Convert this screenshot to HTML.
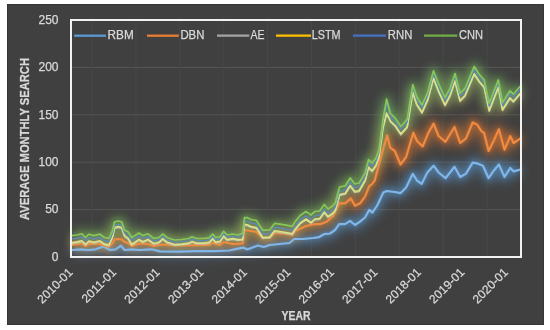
<!DOCTYPE html>
<html><head><meta charset="utf-8"><title>Average monthly search</title>
<style>
html,body{margin:0;padding:0;background:#ffffff;}
body{width:550px;height:330px;overflow:hidden;position:relative;}
svg{position:absolute;left:0;top:0;display:block;}
text{font-family:'Liberation Sans', Arial, sans-serif;stroke:#D9D9D9;stroke-width:0.25px;}
</style></head><body>
<svg width="550" height="330" viewBox="0 0 550 330">
<defs>
<filter id="glow" x="-10%" y="-40%" width="120%" height="180%">
<feGaussianBlur stdDeviation="5.5"/>
</filter>
<filter id="glow2" x="-10%" y="-30%" width="120%" height="160%">
<feGaussianBlur stdDeviation="2"/>
</filter>
<filter id="soft" x="-5%" y="-10%" width="110%" height="120%">
<feGaussianBlur stdDeviation="0.5"/>
</filter>
</defs>
<rect x="7" y="4" width="537" height="321" fill="#404040"/>
<rect x="7.5" y="4.5" width="536" height="320" fill="none" stroke="#363636" stroke-width="1"/>

<line x1="72" x2="520" y1="209.6" y2="209.6" stroke="#555555" stroke-width="1"/>
<line x1="72" x2="520" y1="162.2" y2="162.2" stroke="#555555" stroke-width="1"/>
<line x1="72" x2="520" y1="114.8" y2="114.8" stroke="#555555" stroke-width="1"/>
<line x1="72" x2="520" y1="67.4" y2="67.4" stroke="#555555" stroke-width="1"/>
<line x1="92.0" x2="92.0" y1="21" y2="256" stroke="#474747" stroke-width="1"/>
<line x1="135.9" x2="135.9" y1="21" y2="256" stroke="#474747" stroke-width="1"/>
<line x1="179.8" x2="179.8" y1="21" y2="256" stroke="#474747" stroke-width="1"/>
<line x1="223.7" x2="223.7" y1="21" y2="256" stroke="#474747" stroke-width="1"/>
<line x1="267.6" x2="267.6" y1="21" y2="256" stroke="#474747" stroke-width="1"/>
<line x1="311.5" x2="311.5" y1="21" y2="256" stroke="#474747" stroke-width="1"/>
<line x1="355.4" x2="355.4" y1="21" y2="256" stroke="#474747" stroke-width="1"/>
<line x1="399.3" x2="399.3" y1="21" y2="256" stroke="#474747" stroke-width="1"/>
<line x1="443.2" x2="443.2" y1="21" y2="256" stroke="#474747" stroke-width="1"/>
<line x1="487.1" x2="487.1" y1="21" y2="256" stroke="#474747" stroke-width="1"/>
<polyline points="72.0,250.0 81.0,249.3 88.0,250.0 95.5,249.3 103.6,246.5 110.0,250.0 115.5,249.3 121.0,245.6 124.5,250.0 131.8,249.3 139.0,250.0 151.8,249.3 160.0,251.4 178.0,251.6 196.4,251.2 214.5,251.2 229.0,250.5 238.0,248.6 243.6,247.7 247.3,249.5 254.5,246.8 258.0,245.5 263.8,247.0 269.7,245.0 279.5,244.0 289.4,243.0 294.3,239.0 303.0,239.0 313.0,238.0 318.9,237.2 323.8,234.2 330.0,233.5 335.0,230.0 339.2,224.2 345.0,224.2 350.0,220.8 355.0,225.0 360.0,221.7 365.0,217.5 369.2,210.0 372.5,212.5 377.5,205.0 383.3,192.5 386.8,191.0 394.8,192.0 400.5,193.2 406.1,187.5 412.8,173.8 417.0,180.5 421.6,183.9 427.3,172.5 433.6,165.7 438.6,172.5 445.5,178.2 454.5,166.8 460.2,177.0 466.0,173.6 472.7,162.7 477.3,163.4 483.0,165.7 488.6,178.2 493.2,171.4 498.9,164.5 504.5,177.0 510.2,168.0 513.6,171.4 520.5,169.5" fill="none" stroke="#5B9BD5" stroke-width="10" stroke-linejoin="round" filter="url(#glow)" opacity="0.55"/>
<polyline points="72.0,250.0 81.0,249.3 88.0,250.0 95.5,249.3 103.6,246.5 110.0,250.0 115.5,249.3 121.0,245.6 124.5,250.0 131.8,249.3 139.0,250.0 151.8,249.3 160.0,251.4 178.0,251.6 196.4,251.2 214.5,251.2 229.0,250.5 238.0,248.6 243.6,247.7 247.3,249.5 254.5,246.8 258.0,245.5 263.8,247.0 269.7,245.0 279.5,244.0 289.4,243.0 294.3,239.0 303.0,239.0 313.0,238.0 318.9,237.2 323.8,234.2 330.0,233.5 335.0,230.0 339.2,224.2 345.0,224.2 350.0,220.8 355.0,225.0 360.0,221.7 365.0,217.5 369.2,210.0 372.5,212.5 377.5,205.0 383.3,192.5 386.8,191.0 394.8,192.0 400.5,193.2 406.1,187.5 412.8,173.8 417.0,180.5 421.6,183.9 427.3,172.5 433.6,165.7 438.6,172.5 445.5,178.2 454.5,166.8 460.2,177.0 466.0,173.6 472.7,162.7 477.3,163.4 483.0,165.7 488.6,178.2 493.2,171.4 498.9,164.5 504.5,177.0 510.2,168.0 513.6,171.4 520.5,169.5" fill="none" stroke="#5B9BD5" stroke-width="5" stroke-linejoin="round" filter="url(#glow2)" opacity="0.3"/>
<polyline points="72.0,245.0 81.8,243.5 85.5,246.0 89.0,244.0 100.0,244.0 104.5,246.0 109.0,246.5 112.7,243.0 114.5,239.5 118.2,239.0 121.8,239.5 124.5,242.0 128.2,243.0 131.8,246.0 139.0,243.5 148.0,244.0 153.6,246.0 162.7,244.5 174.5,245.5 196.4,245.2 209.0,245.0 212.7,243.0 220.0,245.0 223.6,242.0 232.7,244.0 242.7,243.5 244.5,230.0 251.0,231.0 256.4,232.0 262.8,238.0 269.7,238.0 274.6,233.0 287.4,234.0 292.3,235.0 295.3,231.0 306.0,226.0 314.8,224.0 320.0,224.2 326.7,221.7 333.3,215.8 339.2,203.3 345.0,203.3 350.8,198.3 355.0,205.8 360.0,203.3 365.0,196.7 369.2,186.2 371.5,184.6 374.7,180.5 378.0,168.0 382.2,152.5 387.2,135.4 390.2,147.7 394.8,151.0 400.5,164.5 406.1,157.0 413.3,132.7 417.0,141.0 422.7,146.4 428.4,132.7 433.6,123.6 438.6,136.0 445.5,141.8 454.5,127.0 460.2,143.0 466.0,138.4 472.7,122.5 477.3,124.8 481.8,131.6 484.0,132.7 488.6,151.0 494.3,139.5 498.9,129.3 504.5,149.8 510.2,136.1 513.6,143.0 520.5,138.4" fill="none" stroke="#ED7D31" stroke-width="10" stroke-linejoin="round" filter="url(#glow)" opacity="0.5"/>
<polyline points="72.0,245.0 81.8,243.5 85.5,246.0 89.0,244.0 100.0,244.0 104.5,246.0 109.0,246.5 112.7,243.0 114.5,239.5 118.2,239.0 121.8,239.5 124.5,242.0 128.2,243.0 131.8,246.0 139.0,243.5 148.0,244.0 153.6,246.0 162.7,244.5 174.5,245.5 196.4,245.2 209.0,245.0 212.7,243.0 220.0,245.0 223.6,242.0 232.7,244.0 242.7,243.5 244.5,230.0 251.0,231.0 256.4,232.0 262.8,238.0 269.7,238.0 274.6,233.0 287.4,234.0 292.3,235.0 295.3,231.0 306.0,226.0 314.8,224.0 320.0,224.2 326.7,221.7 333.3,215.8 339.2,203.3 345.0,203.3 350.8,198.3 355.0,205.8 360.0,203.3 365.0,196.7 369.2,186.2 371.5,184.6 374.7,180.5 378.0,168.0 382.2,152.5 387.2,135.4 390.2,147.7 394.8,151.0 400.5,164.5 406.1,157.0 413.3,132.7 417.0,141.0 422.7,146.4 428.4,132.7 433.6,123.6 438.6,136.0 445.5,141.8 454.5,127.0 460.2,143.0 466.0,138.4 472.7,122.5 477.3,124.8 481.8,131.6 484.0,132.7 488.6,151.0 494.3,139.5 498.9,129.3 504.5,149.8 510.2,136.1 513.6,143.0 520.5,138.4" fill="none" stroke="#ED7D31" stroke-width="5" stroke-linejoin="round" filter="url(#glow2)" opacity="0.3"/>
<polyline points="72.0,243.6 77.0,242.9 81.8,241.7 85.5,245.3 89.0,242.0 93.6,243.3 100.0,241.8 104.5,245.1 109.0,245.9 112.7,237.2 114.5,228.5 118.2,227.5 121.8,228.5 124.5,236.6 128.2,239.3 131.8,245.5 139.0,240.4 142.7,242.7 148.0,240.4 153.6,244.5 159.0,243.2 162.7,239.6 167.3,243.3 174.5,245.6 181.8,245.1 189.0,244.1 192.0,242.4 196.4,244.1 203.6,244.1 209.0,243.4 212.7,239.6 215.5,243.0 220.0,242.4 223.6,237.0 227.3,240.6 232.7,239.6 238.0,240.6 242.7,240.2 244.5,225.2 247.3,225.7 251.0,227.5 256.4,228.6 258.9,232.5 262.8,238.5 269.7,238.1 274.6,231.7 281.5,232.7 287.4,233.8 292.3,234.7 295.3,229.9 300.2,224.0 306.0,220.0 311.0,223.5 314.8,220.0 319.7,219.5 324.3,213.0 328.0,217.5 332.5,214.5 335.2,211.5 337.5,203.0 339.6,195.5 345.3,194.3 350.2,186.5 354.8,192.5 359.2,191.5 365.3,181.0 368.5,168.0 372.0,171.7 375.9,166.5 379.0,158.0 383.0,128.5 386.6,114.0 390.5,122.0 395.4,126.8 400.8,134.9 407.2,127.8 412.8,93.1 416.8,105.4 422.0,113.3 427.9,100.1 433.5,79.1 438.7,92.3 445.0,105.8 450.0,96.5 455.0,81.7 460.0,101.5 465.0,96.5 474.2,74.7 479.2,82.3 484.2,88.1 489.2,111.4 498.3,88.1 502.5,110.6 510.0,98.8 513.3,102.2 520.5,94.0" fill="none" stroke="#A5A5A5" stroke-width="10" stroke-linejoin="round" filter="url(#glow)" opacity="0.12"/>
<polyline points="72.0,243.6 77.0,242.9 81.8,241.7 85.5,245.3 89.0,242.0 93.6,243.3 100.0,241.8 104.5,245.1 109.0,245.9 112.7,237.2 114.5,228.5 118.2,227.5 121.8,228.5 124.5,236.6 128.2,239.3 131.8,245.5 139.0,240.4 142.7,242.7 148.0,240.4 153.6,244.5 159.0,243.2 162.7,239.6 167.3,243.3 174.5,245.6 181.8,245.1 189.0,244.1 192.0,242.4 196.4,244.1 203.6,244.1 209.0,243.4 212.7,239.6 215.5,243.0 220.0,242.4 223.6,237.0 227.3,240.6 232.7,239.6 238.0,240.6 242.7,240.2 244.5,225.2 247.3,225.7 251.0,227.5 256.4,228.6 258.9,232.5 262.8,238.5 269.7,238.1 274.6,231.7 281.5,232.7 287.4,233.8 292.3,234.7 295.3,229.9 300.2,224.0 306.0,220.0 311.0,223.5 314.8,220.0 319.7,219.5 324.3,213.0 328.0,217.5 332.5,214.5 335.2,211.5 337.5,203.0 339.6,195.5 345.3,194.3 350.2,186.5 354.8,192.5 359.2,191.5 365.3,181.0 368.5,168.0 372.0,171.7 375.9,166.5 379.0,158.0 383.0,128.5 386.6,114.0 390.5,122.0 395.4,126.8 400.8,134.9 407.2,127.8 412.8,93.1 416.8,105.4 422.0,113.3 427.9,100.1 433.5,79.1 438.7,92.3 445.0,105.8 450.0,96.5 455.0,81.7 460.0,101.5 465.0,96.5 474.2,74.7 479.2,82.3 484.2,88.1 489.2,111.4 498.3,88.1 502.5,110.6 510.0,98.8 513.3,102.2 520.5,94.0" fill="none" stroke="#A5A5A5" stroke-width="5" stroke-linejoin="round" filter="url(#glow2)" opacity="0.15"/>
<polyline points="72.0,242.6 77.0,241.9 81.8,240.7 85.5,244.3 89.0,241.0 93.6,242.3 100.0,240.8 104.5,244.1 109.0,244.9 112.7,236.2 114.5,227.5 118.2,226.5 121.8,227.5 124.5,235.6 128.2,238.3 131.8,244.5 139.0,239.4 142.7,241.7 148.0,239.4 153.6,243.5 159.0,242.2 162.7,238.6 167.3,242.3 174.5,244.6 181.8,244.1 189.0,243.1 192.0,241.4 196.4,243.1 203.6,243.1 209.0,242.4 212.7,238.6 215.5,242.0 220.0,241.4 223.6,236.0 227.3,239.6 232.7,238.6 238.0,239.6 242.7,239.2 244.5,224.2 247.3,224.7 251.0,226.5 256.4,227.6 258.9,231.5 262.8,237.5 269.7,237.1 274.6,230.7 281.5,231.7 287.4,232.8 292.3,233.7 295.3,228.9 300.2,223.0 306.0,219.0 311.0,222.5 314.8,219.0 319.7,218.5 324.3,212.0 328.0,216.5 332.5,213.5 335.2,210.5 337.5,202.0 339.6,194.5 345.3,193.3 350.2,185.5 354.8,191.5 359.2,190.5 365.3,180.0 368.5,167.0 372.0,170.7 375.9,165.5 379.0,157.0 383.0,127.5 386.6,113.0 390.5,121.0 395.4,125.8 400.8,133.9 407.2,126.8 412.8,92.1 416.8,104.4 422.0,112.3 427.9,99.1 433.5,78.1 438.7,91.3 445.0,104.8 450.0,95.5 455.0,80.7 460.0,100.5 465.0,95.5 474.2,73.7 479.2,81.3 484.2,87.1 489.2,110.4 498.3,87.1 502.5,109.6 510.0,97.8 513.3,101.2 520.5,93.0" fill="none" stroke="#FFC000" stroke-width="10" stroke-linejoin="round" filter="url(#glow)" opacity="0.2"/>
<polyline points="72.0,242.6 77.0,241.9 81.8,240.7 85.5,244.3 89.0,241.0 93.6,242.3 100.0,240.8 104.5,244.1 109.0,244.9 112.7,236.2 114.5,227.5 118.2,226.5 121.8,227.5 124.5,235.6 128.2,238.3 131.8,244.5 139.0,239.4 142.7,241.7 148.0,239.4 153.6,243.5 159.0,242.2 162.7,238.6 167.3,242.3 174.5,244.6 181.8,244.1 189.0,243.1 192.0,241.4 196.4,243.1 203.6,243.1 209.0,242.4 212.7,238.6 215.5,242.0 220.0,241.4 223.6,236.0 227.3,239.6 232.7,238.6 238.0,239.6 242.7,239.2 244.5,224.2 247.3,224.7 251.0,226.5 256.4,227.6 258.9,231.5 262.8,237.5 269.7,237.1 274.6,230.7 281.5,231.7 287.4,232.8 292.3,233.7 295.3,228.9 300.2,223.0 306.0,219.0 311.0,222.5 314.8,219.0 319.7,218.5 324.3,212.0 328.0,216.5 332.5,213.5 335.2,210.5 337.5,202.0 339.6,194.5 345.3,193.3 350.2,185.5 354.8,191.5 359.2,190.5 365.3,180.0 368.5,167.0 372.0,170.7 375.9,165.5 379.0,157.0 383.0,127.5 386.6,113.0 390.5,121.0 395.4,125.8 400.8,133.9 407.2,126.8 412.8,92.1 416.8,104.4 422.0,112.3 427.9,99.1 433.5,78.1 438.7,91.3 445.0,104.8 450.0,95.5 455.0,80.7 460.0,100.5 465.0,95.5 474.2,73.7 479.2,81.3 484.2,87.1 489.2,110.4 498.3,87.1 502.5,109.6 510.0,97.8 513.3,101.2 520.5,93.0" fill="none" stroke="#FFC000" stroke-width="5" stroke-linejoin="round" filter="url(#glow2)" opacity="0.15"/>
<polyline points="72.0,238.9 77.0,238.3 81.8,237.1 85.5,240.8 89.0,237.5 93.6,238.9 100.0,237.5 104.5,240.8 109.0,241.7 112.7,233.3 114.5,225.3 118.2,224.3 121.8,225.3 124.5,233.3 128.2,235.3 131.8,240.8 139.0,236.0 142.7,238.5 148.0,236.5 153.6,240.9 159.0,239.7 162.7,236.2 167.3,239.9 174.5,242.2 181.8,241.7 189.0,240.7 192.0,239.0 196.4,240.7 203.6,240.7 209.0,240.0 212.7,236.2 215.5,239.6 220.0,239.0 223.6,233.6 227.3,237.2 232.7,236.2 238.0,237.2 242.7,236.0 244.5,220.8 247.3,221.0 251.0,222.9 256.4,224.0 258.9,227.9 262.8,233.9 269.7,233.6 274.6,227.2 281.5,228.4 287.4,229.5 292.3,230.5 295.3,225.6 300.2,219.8 306.0,215.8 311.0,219.3 314.8,215.8 319.7,215.3 324.3,208.8 328.0,213.3 332.5,210.3 335.2,207.3 337.5,198.8 339.6,191.3 345.3,189.9 350.2,182.0 354.8,187.8 359.2,186.7 365.3,176.0 368.5,162.9 372.0,166.5 375.9,161.1 379.0,152.5 383.0,123.0 386.6,104.0 390.5,116.5 395.4,121.4 400.8,129.5 407.2,122.4 412.8,87.7 416.8,100.0 422.0,108.0 427.9,94.8 433.5,73.8 438.7,87.0 445.0,100.5 450.0,91.3 455.0,76.5 460.0,96.3 465.0,91.3 474.2,69.5 479.2,77.2 484.2,83.0 489.2,106.3 498.3,83.0 502.5,105.5 510.0,93.8 513.3,97.2 520.5,89.0" fill="none" stroke="#4472C4" stroke-width="10" stroke-linejoin="round" filter="url(#glow)" opacity="0.25"/>
<polyline points="72.0,238.9 77.0,238.3 81.8,237.1 85.5,240.8 89.0,237.5 93.6,238.9 100.0,237.5 104.5,240.8 109.0,241.7 112.7,233.3 114.5,225.3 118.2,224.3 121.8,225.3 124.5,233.3 128.2,235.3 131.8,240.8 139.0,236.0 142.7,238.5 148.0,236.5 153.6,240.9 159.0,239.7 162.7,236.2 167.3,239.9 174.5,242.2 181.8,241.7 189.0,240.7 192.0,239.0 196.4,240.7 203.6,240.7 209.0,240.0 212.7,236.2 215.5,239.6 220.0,239.0 223.6,233.6 227.3,237.2 232.7,236.2 238.0,237.2 242.7,236.0 244.5,220.8 247.3,221.0 251.0,222.9 256.4,224.0 258.9,227.9 262.8,233.9 269.7,233.6 274.6,227.2 281.5,228.4 287.4,229.5 292.3,230.5 295.3,225.6 300.2,219.8 306.0,215.8 311.0,219.3 314.8,215.8 319.7,215.3 324.3,208.8 328.0,213.3 332.5,210.3 335.2,207.3 337.5,198.8 339.6,191.3 345.3,189.9 350.2,182.0 354.8,187.8 359.2,186.7 365.3,176.0 368.5,162.9 372.0,166.5 375.9,161.1 379.0,152.5 383.0,123.0 386.6,104.0 390.5,116.5 395.4,121.4 400.8,129.5 407.2,122.4 412.8,87.7 416.8,100.0 422.0,108.0 427.9,94.8 433.5,73.8 438.7,87.0 445.0,100.5 450.0,91.3 455.0,76.5 460.0,96.3 465.0,91.3 474.2,69.5 479.2,77.2 484.2,83.0 489.2,106.3 498.3,83.0 502.5,105.5 510.0,93.8 513.3,97.2 520.5,89.0" fill="none" stroke="#4472C4" stroke-width="5" stroke-linejoin="round" filter="url(#glow2)" opacity="0.15"/>
<polyline points="72.0,235.6 77.0,235.0 81.8,233.8 85.5,237.5 89.0,234.2 93.6,235.6 100.0,234.2 104.5,237.5 109.0,238.4 112.7,230.0 114.5,222.0 118.2,221.0 121.8,222.0 124.5,230.0 128.2,232.0 131.8,237.5 139.0,233.0 142.7,235.6 148.0,233.8 153.6,238.4 159.0,237.5 162.7,234.0 167.3,237.7 174.5,240.0 181.8,239.5 189.0,238.5 192.0,236.8 196.4,238.5 203.6,238.5 209.0,237.8 212.7,234.0 215.5,237.4 220.0,236.8 223.6,231.4 227.3,235.0 232.7,234.0 238.0,235.0 242.7,233.2 244.5,217.7 247.3,217.7 251.0,219.5 256.4,220.5 258.9,224.4 262.8,230.3 269.7,229.9 274.6,223.4 281.5,224.4 287.4,225.4 292.3,226.3 295.3,221.4 300.2,215.5 306.0,211.5 311.0,215.0 314.8,211.5 319.7,211.0 324.3,204.5 328.0,209.0 332.5,206.0 335.2,203.0 337.5,194.5 339.6,187.0 345.3,185.8 350.2,178.0 354.8,184.0 359.2,183.0 365.3,172.5 368.5,159.5 372.0,163.2 375.9,158.0 379.0,149.5 383.0,120.0 386.6,99.0 390.5,113.5 395.4,118.4 400.8,126.5 407.2,119.4 412.8,84.7 416.8,97.0 422.0,105.0 427.9,91.8 433.5,70.8 438.7,84.0 445.0,97.5 450.0,88.3 455.0,73.5 460.0,93.3 465.0,88.3 474.2,66.5 479.2,74.2 484.2,80.0 489.2,103.3 498.3,80.0 502.5,102.5 510.0,90.8 513.3,94.2 520.5,86.0" fill="none" stroke="#70AD47" stroke-width="10" stroke-linejoin="round" filter="url(#glow)" opacity="0.5"/>
<polyline points="72.0,235.6 77.0,235.0 81.8,233.8 85.5,237.5 89.0,234.2 93.6,235.6 100.0,234.2 104.5,237.5 109.0,238.4 112.7,230.0 114.5,222.0 118.2,221.0 121.8,222.0 124.5,230.0 128.2,232.0 131.8,237.5 139.0,233.0 142.7,235.6 148.0,233.8 153.6,238.4 159.0,237.5 162.7,234.0 167.3,237.7 174.5,240.0 181.8,239.5 189.0,238.5 192.0,236.8 196.4,238.5 203.6,238.5 209.0,237.8 212.7,234.0 215.5,237.4 220.0,236.8 223.6,231.4 227.3,235.0 232.7,234.0 238.0,235.0 242.7,233.2 244.5,217.7 247.3,217.7 251.0,219.5 256.4,220.5 258.9,224.4 262.8,230.3 269.7,229.9 274.6,223.4 281.5,224.4 287.4,225.4 292.3,226.3 295.3,221.4 300.2,215.5 306.0,211.5 311.0,215.0 314.8,211.5 319.7,211.0 324.3,204.5 328.0,209.0 332.5,206.0 335.2,203.0 337.5,194.5 339.6,187.0 345.3,185.8 350.2,178.0 354.8,184.0 359.2,183.0 365.3,172.5 368.5,159.5 372.0,163.2 375.9,158.0 379.0,149.5 383.0,120.0 386.6,99.0 390.5,113.5 395.4,118.4 400.8,126.5 407.2,119.4 412.8,84.7 416.8,97.0 422.0,105.0 427.9,91.8 433.5,70.8 438.7,84.0 445.0,97.5 450.0,88.3 455.0,73.5 460.0,93.3 465.0,88.3 474.2,66.5 479.2,74.2 484.2,80.0 489.2,103.3 498.3,80.0 502.5,102.5 510.0,90.8 513.3,94.2 520.5,86.0" fill="none" stroke="#70AD47" stroke-width="5" stroke-linejoin="round" filter="url(#glow2)" opacity="0.2"/>
<polyline points="72.0,250.0 81.0,249.3 88.0,250.0 95.5,249.3 103.6,246.5 110.0,250.0 115.5,249.3 121.0,245.6 124.5,250.0 131.8,249.3 139.0,250.0 151.8,249.3 160.0,251.4 178.0,251.6 196.4,251.2 214.5,251.2 229.0,250.5 238.0,248.6 243.6,247.7 247.3,249.5 254.5,246.8 258.0,245.5 263.8,247.0 269.7,245.0 279.5,244.0 289.4,243.0 294.3,239.0 303.0,239.0 313.0,238.0 318.9,237.2 323.8,234.2 330.0,233.5 335.0,230.0 339.2,224.2 345.0,224.2 350.0,220.8 355.0,225.0 360.0,221.7 365.0,217.5 369.2,210.0 372.5,212.5 377.5,205.0 383.3,192.5 386.8,191.0 394.8,192.0 400.5,193.2 406.1,187.5 412.8,173.8 417.0,180.5 421.6,183.9 427.3,172.5 433.6,165.7 438.6,172.5 445.5,178.2 454.5,166.8 460.2,177.0 466.0,173.6 472.7,162.7 477.3,163.4 483.0,165.7 488.6,178.2 493.2,171.4 498.9,164.5 504.5,177.0 510.2,168.0 513.6,171.4 520.5,169.5" fill="none" stroke="#80B6E8" stroke-width="2.2" stroke-linejoin="round" stroke-linecap="round" filter="url(#soft)"/>
<polyline points="72.0,245.0 81.8,243.5 85.5,246.0 89.0,244.0 100.0,244.0 104.5,246.0 109.0,246.5 112.7,243.0 114.5,239.5 118.2,239.0 121.8,239.5 124.5,242.0 128.2,243.0 131.8,246.0 139.0,243.5 148.0,244.0 153.6,246.0 162.7,244.5 174.5,245.5 196.4,245.2 209.0,245.0 212.7,243.0 220.0,245.0 223.6,242.0 232.7,244.0 242.7,243.5 244.5,230.0 251.0,231.0 256.4,232.0 262.8,238.0 269.7,238.0 274.6,233.0 287.4,234.0 292.3,235.0 295.3,231.0 306.0,226.0 314.8,224.0 320.0,224.2 326.7,221.7 333.3,215.8 339.2,203.3 345.0,203.3 350.8,198.3 355.0,205.8 360.0,203.3 365.0,196.7 369.2,186.2 371.5,184.6 374.7,180.5 378.0,168.0 382.2,152.5 387.2,135.4 390.2,147.7 394.8,151.0 400.5,164.5 406.1,157.0 413.3,132.7 417.0,141.0 422.7,146.4 428.4,132.7 433.6,123.6 438.6,136.0 445.5,141.8 454.5,127.0 460.2,143.0 466.0,138.4 472.7,122.5 477.3,124.8 481.8,131.6 484.0,132.7 488.6,151.0 494.3,139.5 498.9,129.3 504.5,149.8 510.2,136.1 513.6,143.0 520.5,138.4" fill="none" stroke="#F08A40" stroke-width="2.2" stroke-linejoin="round" stroke-linecap="round" filter="url(#soft)"/>
<polyline points="72.0,243.6 77.0,242.9 81.8,241.7 85.5,245.3 89.0,242.0 93.6,243.3 100.0,241.8 104.5,245.1 109.0,245.9 112.7,237.2 114.5,228.5 118.2,227.5 121.8,228.5 124.5,236.6 128.2,239.3 131.8,245.5 139.0,240.4 142.7,242.7 148.0,240.4 153.6,244.5 159.0,243.2 162.7,239.6 167.3,243.3 174.5,245.6 181.8,245.1 189.0,244.1 192.0,242.4 196.4,244.1 203.6,244.1 209.0,243.4 212.7,239.6 215.5,243.0 220.0,242.4 223.6,237.0 227.3,240.6 232.7,239.6 238.0,240.6 242.7,240.2 244.5,225.2 247.3,225.7 251.0,227.5 256.4,228.6 258.9,232.5 262.8,238.5 269.7,238.1 274.6,231.7 281.5,232.7 287.4,233.8 292.3,234.7 295.3,229.9 300.2,224.0 306.0,220.0 311.0,223.5 314.8,220.0 319.7,219.5 324.3,213.0 328.0,217.5 332.5,214.5 335.2,211.5 337.5,203.0 339.6,195.5 345.3,194.3 350.2,186.5 354.8,192.5 359.2,191.5 365.3,181.0 368.5,168.0 372.0,171.7 375.9,166.5 379.0,158.0 383.0,128.5 386.6,114.0 390.5,122.0 395.4,126.8 400.8,134.9 407.2,127.8 412.8,93.1 416.8,105.4 422.0,113.3 427.9,100.1 433.5,79.1 438.7,92.3 445.0,105.8 450.0,96.5 455.0,81.7 460.0,101.5 465.0,96.5 474.2,74.7 479.2,82.3 484.2,88.1 489.2,111.4 498.3,88.1 502.5,110.6 510.0,98.8 513.3,102.2 520.5,94.0" fill="none" stroke="#B8C0A0" stroke-width="1.5" stroke-linejoin="round" stroke-linecap="round" filter="url(#soft)"/>
<polyline points="72.0,242.6 77.0,241.9 81.8,240.7 85.5,244.3 89.0,241.0 93.6,242.3 100.0,240.8 104.5,244.1 109.0,244.9 112.7,236.2 114.5,227.5 118.2,226.5 121.8,227.5 124.5,235.6 128.2,238.3 131.8,244.5 139.0,239.4 142.7,241.7 148.0,239.4 153.6,243.5 159.0,242.2 162.7,238.6 167.3,242.3 174.5,244.6 181.8,244.1 189.0,243.1 192.0,241.4 196.4,243.1 203.6,243.1 209.0,242.4 212.7,238.6 215.5,242.0 220.0,241.4 223.6,236.0 227.3,239.6 232.7,238.6 238.0,239.6 242.7,239.2 244.5,224.2 247.3,224.7 251.0,226.5 256.4,227.6 258.9,231.5 262.8,237.5 269.7,237.1 274.6,230.7 281.5,231.7 287.4,232.8 292.3,233.7 295.3,228.9 300.2,223.0 306.0,219.0 311.0,222.5 314.8,219.0 319.7,218.5 324.3,212.0 328.0,216.5 332.5,213.5 335.2,210.5 337.5,202.0 339.6,194.5 345.3,193.3 350.2,185.5 354.8,191.5 359.2,190.5 365.3,180.0 368.5,167.0 372.0,170.7 375.9,165.5 379.0,157.0 383.0,127.5 386.6,113.0 390.5,121.0 395.4,125.8 400.8,133.9 407.2,126.8 412.8,92.1 416.8,104.4 422.0,112.3 427.9,99.1 433.5,78.1 438.7,91.3 445.0,104.8 450.0,95.5 455.0,80.7 460.0,100.5 465.0,95.5 474.2,73.7 479.2,81.3 484.2,87.1 489.2,110.4 498.3,87.1 502.5,109.6 510.0,97.8 513.3,101.2 520.5,93.0" fill="none" stroke="#DCE088" stroke-width="1.6" stroke-linejoin="round" stroke-linecap="round" filter="url(#soft)"/>
<polyline points="72.0,238.9 77.0,238.3 81.8,237.1 85.5,240.8 89.0,237.5 93.6,238.9 100.0,237.5 104.5,240.8 109.0,241.7 112.7,233.3 114.5,225.3 118.2,224.3 121.8,225.3 124.5,233.3 128.2,235.3 131.8,240.8 139.0,236.0 142.7,238.5 148.0,236.5 153.6,240.9 159.0,239.7 162.7,236.2 167.3,239.9 174.5,242.2 181.8,241.7 189.0,240.7 192.0,239.0 196.4,240.7 203.6,240.7 209.0,240.0 212.7,236.2 215.5,239.6 220.0,239.0 223.6,233.6 227.3,237.2 232.7,236.2 238.0,237.2 242.7,236.0 244.5,220.8 247.3,221.0 251.0,222.9 256.4,224.0 258.9,227.9 262.8,233.9 269.7,233.6 274.6,227.2 281.5,228.4 287.4,229.5 292.3,230.5 295.3,225.6 300.2,219.8 306.0,215.8 311.0,219.3 314.8,215.8 319.7,215.3 324.3,208.8 328.0,213.3 332.5,210.3 335.2,207.3 337.5,198.8 339.6,191.3 345.3,189.9 350.2,182.0 354.8,187.8 359.2,186.7 365.3,176.0 368.5,162.9 372.0,166.5 375.9,161.1 379.0,152.5 383.0,123.0 386.6,104.0 390.5,116.5 395.4,121.4 400.8,129.5 407.2,122.4 412.8,87.7 416.8,100.0 422.0,108.0 427.9,94.8 433.5,73.8 438.7,87.0 445.0,100.5 450.0,91.3 455.0,76.5 460.0,96.3 465.0,91.3 474.2,69.5 479.2,77.2 484.2,83.0 489.2,106.3 498.3,83.0 502.5,105.5 510.0,93.8 513.3,97.2 520.5,89.0" fill="none" stroke="#5A8CC8" stroke-width="1.1" stroke-linejoin="round" stroke-linecap="round" filter="url(#soft)"/>
<polyline points="72.0,235.6 77.0,235.0 81.8,233.8 85.5,237.5 89.0,234.2 93.6,235.6 100.0,234.2 104.5,237.5 109.0,238.4 112.7,230.0 114.5,222.0 118.2,221.0 121.8,222.0 124.5,230.0 128.2,232.0 131.8,237.5 139.0,233.0 142.7,235.6 148.0,233.8 153.6,238.4 159.0,237.5 162.7,234.0 167.3,237.7 174.5,240.0 181.8,239.5 189.0,238.5 192.0,236.8 196.4,238.5 203.6,238.5 209.0,237.8 212.7,234.0 215.5,237.4 220.0,236.8 223.6,231.4 227.3,235.0 232.7,234.0 238.0,235.0 242.7,233.2 244.5,217.7 247.3,217.7 251.0,219.5 256.4,220.5 258.9,224.4 262.8,230.3 269.7,229.9 274.6,223.4 281.5,224.4 287.4,225.4 292.3,226.3 295.3,221.4 300.2,215.5 306.0,211.5 311.0,215.0 314.8,211.5 319.7,211.0 324.3,204.5 328.0,209.0 332.5,206.0 335.2,203.0 337.5,194.5 339.6,187.0 345.3,185.8 350.2,178.0 354.8,184.0 359.2,183.0 365.3,172.5 368.5,159.5 372.0,163.2 375.9,158.0 379.0,149.5 383.0,120.0 386.6,99.0 390.5,113.5 395.4,118.4 400.8,126.5 407.2,119.4 412.8,84.7 416.8,97.0 422.0,105.0 427.9,91.8 433.5,70.8 438.7,84.0 445.0,97.5 450.0,88.3 455.0,73.5 460.0,93.3 465.0,88.3 474.2,66.5 479.2,74.2 484.2,80.0 489.2,103.3 498.3,80.0 502.5,102.5 510.0,90.8 513.3,94.2 520.5,86.0" fill="none" stroke="#86C65A" stroke-width="1.7" stroke-linejoin="round" stroke-linecap="round" filter="url(#soft)"/>
<rect x="71" y="20" width="450" height="237" fill="none" stroke="#F2F2F2" stroke-width="2"/>
<text x="58.5" y="260.8" font-size="12" fill="#D9D9D9" text-anchor="end">0</text>
<text x="58.5" y="213.4" font-size="12" fill="#D9D9D9" text-anchor="end">50</text>
<text x="58.5" y="166.0" font-size="12" fill="#D9D9D9" text-anchor="end">100</text>
<text x="58.5" y="118.6" font-size="12" fill="#D9D9D9" text-anchor="end">150</text>
<text x="58.5" y="71.2" font-size="12" fill="#D9D9D9" text-anchor="end">200</text>
<text x="58.5" y="23.8" font-size="12" fill="#D9D9D9" text-anchor="end">250</text>
<text font-size="12" fill="#D9D9D9" text-anchor="end" transform="translate(73.5,273) rotate(-45)">2010-01</text>
<text font-size="12" fill="#D9D9D9" text-anchor="end" transform="translate(117.0,273) rotate(-45)">2011-01</text>
<text font-size="12" fill="#D9D9D9" text-anchor="end" transform="translate(160.5,273) rotate(-45)">2012-01</text>
<text font-size="12" fill="#D9D9D9" text-anchor="end" transform="translate(204.1,273) rotate(-45)">2013-01</text>
<text font-size="12" fill="#D9D9D9" text-anchor="end" transform="translate(247.6,273) rotate(-45)">2014-01</text>
<text font-size="12" fill="#D9D9D9" text-anchor="end" transform="translate(291.1,273) rotate(-45)">2015-01</text>
<text font-size="12" fill="#D9D9D9" text-anchor="end" transform="translate(334.6,273) rotate(-45)">2016-01</text>
<text font-size="12" fill="#D9D9D9" text-anchor="end" transform="translate(378.1,273) rotate(-45)">2017-01</text>
<text font-size="12" fill="#D9D9D9" text-anchor="end" transform="translate(421.7,273) rotate(-45)">2018-01</text>
<text font-size="12" fill="#D9D9D9" text-anchor="end" transform="translate(465.2,273) rotate(-45)">2019-01</text>
<text font-size="12" fill="#D9D9D9" text-anchor="end" transform="translate(508.7,273) rotate(-45)">2020-01</text>
<line x1="74.2" x2="106" y1="35.7" y2="35.7" stroke="#5B9BD5" stroke-width="2.25"/>
<text x="107.5" y="39.2" font-size="12" fill="#D9D9D9" textLength="26.2" lengthAdjust="spacingAndGlyphs">RBM</text>
<line x1="147" x2="178.8" y1="35.7" y2="35.7" stroke="#ED7D31" stroke-width="2.25"/>
<text x="180.4" y="39.2" font-size="12" fill="#D9D9D9" textLength="24" lengthAdjust="spacingAndGlyphs">DBN</text>
<line x1="217" x2="249.3" y1="35.7" y2="35.7" stroke="#A5A5A5" stroke-width="2.25"/>
<text x="250.5" y="39.2" font-size="12" fill="#D9D9D9" textLength="14" lengthAdjust="spacingAndGlyphs">AE</text>
<line x1="276" x2="311" y1="35.7" y2="35.7" stroke="#FFC000" stroke-width="2.25"/>
<text x="311.8" y="39.2" font-size="12" fill="#D9D9D9" textLength="28.8" lengthAdjust="spacingAndGlyphs">LSTM</text>
<line x1="353" x2="386" y1="35.7" y2="35.7" stroke="#4472C4" stroke-width="2.25"/>
<text x="387.8" y="39.2" font-size="12" fill="#D9D9D9" textLength="24.5" lengthAdjust="spacingAndGlyphs">RNN</text>
<line x1="424" x2="457.3" y1="35.7" y2="35.7" stroke="#70AD47" stroke-width="2.25"/>
<text x="458.9" y="39.2" font-size="12" fill="#D9D9D9" textLength="24" lengthAdjust="spacingAndGlyphs">CNN</text>
<text font-size="12.4" font-weight="bold" fill="#D9D9D9" text-anchor="middle" textLength="162" lengthAdjust="spacingAndGlyphs" transform="translate(29.3,139) rotate(-90)">AVERAGE MONTHLY SEARCH</text>
<text x="296" y="319.7" font-size="12.4" font-weight="bold" fill="#D9D9D9" text-anchor="middle" textLength="29" lengthAdjust="spacingAndGlyphs">YEAR</text>
</svg>
</body></html>
